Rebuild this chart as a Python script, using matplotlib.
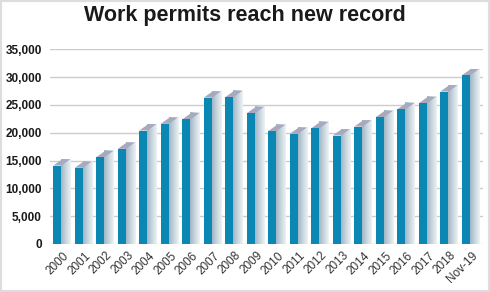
import numpy as np
import matplotlib
matplotlib.use('Agg')
import matplotlib.pyplot as plt
from matplotlib.patches import Polygon, Rectangle
from matplotlib.colors import LinearSegmentedColormap

# Data
years = ['2000', '2001', '2002', '2003', '2004', '2005', '2006', '2007', '2008',
         '2009', '2010', '2011', '2012', '2013', '2014', '2015', '2016', '2017',
         '2018', 'Nov-19']
permits = [14100, 13700, 15600, 17100, 20400, 21600, 22400, 26300, 26400,
           23500, 20300, 19800, 20800, 19500, 21100, 22800, 24200, 25300,
           27400, 30300]

yticks = [0, 5000, 10000, 15000, 20000, 25000, 30000, 35000]

plt.rcParams['font.family'] = ['Liberation Sans', 'DejaVu Sans']

front_color = '#0b87b3'
top_color = '#a8a8bf'
side_cmap = LinearSegmentedColormap.from_list('side', ['#9fb6c6', '#c9d6de', '#eef2f5'])

fig = plt.figure(figsize=(4.9, 2.92), dpi=100)
ax = fig.add_axes([50 / 490, 48 / 292, 433 / 490, 194.7 / 292])

w = 0.38    # front face width (bar units)
dx = 0.42   # depth offset in x
dy = 1150   # depth offset in y

# grid lines
for t in yticks:
    ax.axhline(t, color='#cccccc', lw=1, zorder=0)

grad = np.linspace(0, 1, 64).reshape(1, -1)
for i, v in enumerate(permits):
    x0 = i
    # side face with gradient
    side = Polygon([(x0 + w, 0), (x0 + w, v), (x0 + w + dx, v + dy), (x0 + w + dx, dy)],
                   closed=True, facecolor='none', edgecolor='none')
    ax.add_patch(side)
    im = ax.imshow(grad, cmap=side_cmap, aspect='auto',
                   extent=[x0 + w, x0 + w + dx, 0, v + dy], zorder=2, clip_on=False)
    im.set_clip_path(side)
    # top face
    ax.add_patch(Polygon([(x0, v), (x0 + w, v), (x0 + w + dx, v + dy), (x0 + dx, v + dy)],
                         closed=True, facecolor=top_color, edgecolor='none', zorder=3,
                         clip_on=False))
    # front face
    ax.add_patch(Rectangle((x0, 0), w, v, facecolor=front_color, edgecolor='none', zorder=4))

ax.set_xlim(-0.15, 19.99)
ax.set_ylim(0, 35000)

ax.set_yticks(yticks)
ax.set_yticklabels([f'{t:,}' for t in yticks], fontsize=8.5, fontweight='bold', color='#1a1a1a')
ax.set_xticks(np.arange(len(years)) + 0.45)
ax.set_xticklabels(years, rotation=45, ha='right', rotation_mode='anchor',
                   fontsize=8.5, color='#333333')
ax.tick_params(axis='both', length=0)
ax.tick_params(axis='y', pad=6)
ax.tick_params(axis='x', pad=4)

for s in ax.spines.values():
    s.set_visible(False)

fig.text(0.5, 1 - 16 / 292, 'Work permits reach new record', ha='center', va='center',
         fontsize=15.5, fontweight='bold', color='#1a1a1a')

fig.patches.append(Rectangle((0, 0), 1, 1, transform=fig.transFigure, fill=False,
                             edgecolor='#dddddd', lw=3))

fig.savefig('out.png', dpi=100)
